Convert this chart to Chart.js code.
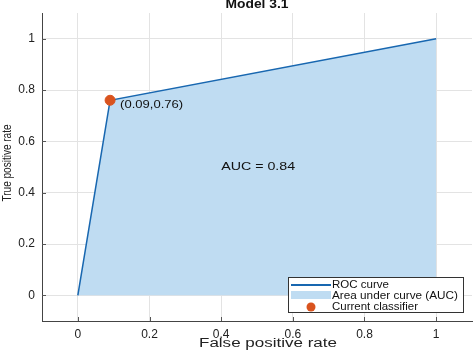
<!DOCTYPE html>
<html>
<head>
<meta charset="utf-8">
<script src="https://cdn.jsdelivr.net/npm/chart.js@4"></script>
<style>
  html, body { margin: 0; padding: 0; background: #fff; }
  #wrap { width: 474px; height: 351px; }
</style>
</head>
<body>
<div id="wrap"><canvas id="roc" width="474" height="351"></canvas></div>
<script>
// ROC data
const fpr = [0, 0.09, 1];
const tpr = [0, 0.76, 1];
const currentFpr = [0.09];
const currentTpr = [0.76];
const aucValue = 0.84;
const tickValues = [0, 0.2, 0.4, 0.6, 0.8, 1];

const FONT = '"Liberation Sans", Arial, sans-serif';
const LINE_BLUE = '#1867b0';
const FILL_BLUE = '#bfdcf2';
const ORANGE = '#d9531e';

// the source image is a bit stretched sideways, so text is squeezed/widened to a target width
function wideText(ctx, text, x, y, width, align) {
    const w = ctx.measureText(text).width;
    const sx = width / w;
    ctx.save();
    ctx.translate(x, y);
    ctx.scale(sx, 1);
    ctx.textAlign = align;
    ctx.fillText(text, 0, 0);
    ctx.restore();
}

// titles, inward ticks, annotations and the boxed legend
const decorations = {
    id: 'decorations',
    afterDraw(chart) {
        const ctx = chart.ctx;
        const xs = chart.scales.x, ys = chart.scales.y;
        const area = chart.chartArea;
        ctx.save();

        // inward tick marks
        ctx.strokeStyle = '#555';
        ctx.lineWidth = 1;
        tickValues.forEach(v => {
            const px = Math.round(xs.getPixelForValue(v)) + 0.5;
            ctx.beginPath(); ctx.moveTo(px, area.bottom); ctx.lineTo(px, area.bottom - 4); ctx.stroke();
            const py = Math.round(ys.getPixelForValue(v)) + 0.5;
            ctx.beginPath(); ctx.moveTo(area.left, py); ctx.lineTo(area.left + 4, py); ctx.stroke();
        });

        ctx.textBaseline = 'middle';

        // title
        ctx.fillStyle = '#111';
        ctx.font = 'bold 12px ' + FONT;
        wideText(ctx, 'Model 3.1', 257, 5, 63, 'center');

        // axis titles
        ctx.fillStyle = '#222';
        ctx.font = '12px ' + FONT;
        wideText(ctx, 'False positive rate', 268, 344, 138, 'center');
        ctx.save();
        ctx.translate(8, 163);
        ctx.rotate(-Math.PI / 2);
        ctx.font = '12px ' + FONT;
        wideText(ctx, 'True positive rate', 0, 0, 77, 'center');
        ctx.restore();

        // annotations
        ctx.fillStyle = '#111';
        ctx.font = '11px ' + FONT;
        const label = '(' + currentFpr[0].toFixed(2) + ',' + currentTpr[0].toFixed(2) + ')';
        wideText(ctx, label, xs.getPixelForValue(currentFpr[0]) + 10, ys.getPixelForValue(currentTpr[0]) + 5, 63, 'left');
        wideText(ctx, 'AUC = ' + aucValue.toFixed(2), xs.getPixelForValue(0.4), ys.getPixelForValue(0.5), 74, 'left');

        // legend box
        const lx = 288.5, ly = 277.5, lw = 175, lh = 35;
        ctx.fillStyle = '#fff';
        ctx.fillRect(lx, ly, lw, lh);
        ctx.strokeStyle = '#333';
        ctx.lineWidth = 1;
        ctx.strokeRect(lx, ly, lw, lh);

        ctx.strokeStyle = LINE_BLUE;
        ctx.lineWidth = 2;
        ctx.beginPath(); ctx.moveTo(291, 285); ctx.lineTo(331, 285); ctx.stroke();
        ctx.fillStyle = FILL_BLUE;
        ctx.fillRect(291, 291, 40, 8);
        ctx.fillStyle = ORANGE;
        ctx.beginPath(); ctx.arc(311, 307, 4.5, 0, Math.PI * 2); ctx.fill();

        ctx.fillStyle = '#111';
        ctx.font = '11px ' + FONT;
        wideText(ctx, 'ROC curve', 332, 285, 57, 'left');
        wideText(ctx, 'Area under curve (AUC)', 332, 296, 126, 'left');
        wideText(ctx, 'Current classifier', 332, 307, 86, 'left');

        ctx.restore();
    }
};

function onlyMainTicks(scale) {
    scale.ticks = tickValues.map(v => ({ value: v }));
}

new Chart(document.getElementById('roc'), {
    type: 'scatter',
    data: {
        datasets: [
            {
                label: 'Current classifier',
                data: currentFpr.map((x, i) => ({ x: x, y: currentTpr[i] })),
                backgroundColor: ORANGE,
                borderColor: ORANGE,
                pointRadius: 5,
                order: 0
            },
            {
                label: 'ROC curve',
                data: fpr.map((x, i) => ({ x: x, y: tpr[i] })),
                showLine: true,
                borderColor: LINE_BLUE,
                borderWidth: 1.5,
                backgroundColor: FILL_BLUE,
                fill: 'origin',
                pointRadius: 0,
                tension: 0,
                order: 1
            }
        ]
    },
    options: {
        responsive: false,
        animation: false,
        layout: { autoPadding: false, padding: { top: 13, right: 2, left: 0, bottom: 0 } },
        plugins: {
            legend: { display: false },
            title: { display: false },
            tooltip: { enabled: false }
        },
        scales: {
            x: {
                type: 'linear',
                min: -0.1,
                max: 1.1,
                afterBuildTicks: onlyMainTicks,
                afterFit(scale) { scale.height = 30; scale.paddingLeft = 0; scale.paddingRight = 0; },
                grid: { color: '#e3e3e3', drawTicks: false },
                border: { color: '#444' },
                ticks: {
                    padding: 6,
                    color: '#222',
                    font: { family: FONT, size: 12 },
                    maxRotation: 0,
                    callback: v => String(Math.round(v * 10) / 10)
                }
            },
            y: {
                type: 'linear',
                min: -0.1,
                max: 1.1,
                afterBuildTicks: onlyMainTicks,
                afterFit(scale) { scale.width = 42; scale.paddingTop = 0; scale.paddingBottom = 0; },
                grid: { color: '#e3e3e3', drawTicks: false },
                border: { color: '#444' },
                ticks: {
                    padding: 7,
                    color: '#222',
                    font: { family: FONT, size: 12 },
                    callback: v => String(Math.round(v * 10) / 10)
                }
            }
        }
    },
    plugins: [decorations]
});
</script>
</body>
</html>
